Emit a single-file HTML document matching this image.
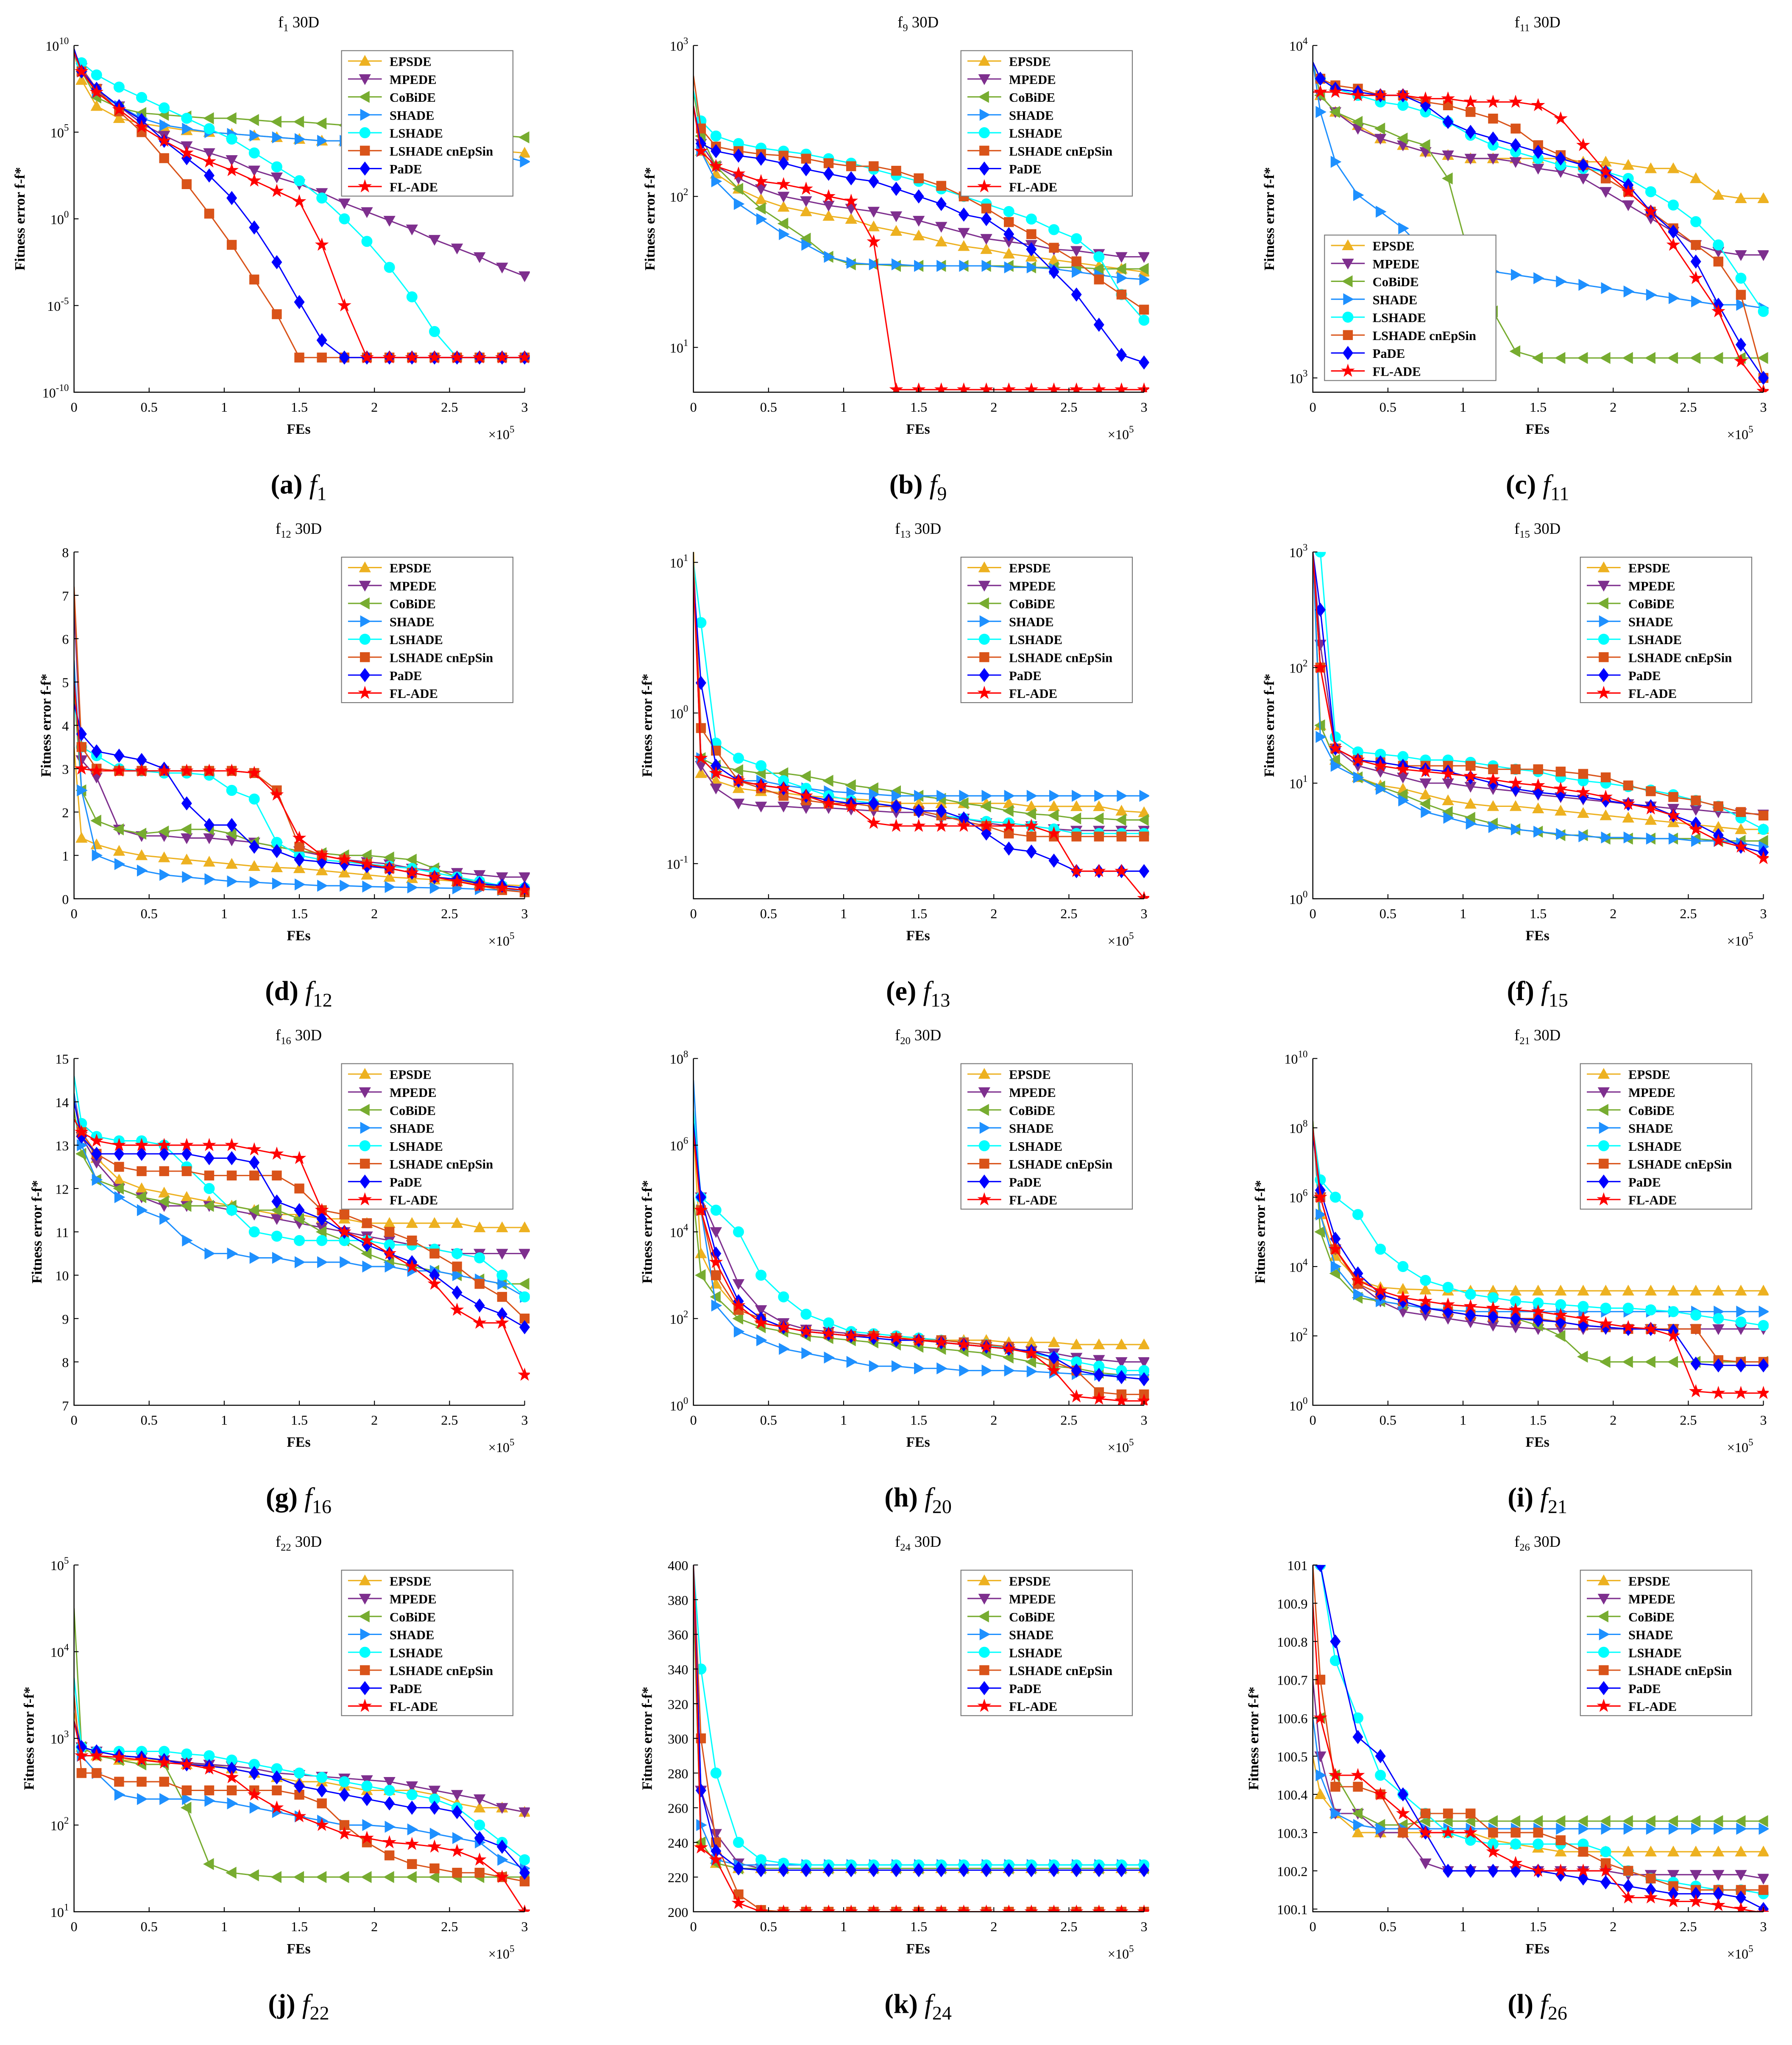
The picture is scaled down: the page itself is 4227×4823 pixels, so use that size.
<!DOCTYPE html>
<html><head><meta charset="utf-8"><title>Convergence curves</title>
<style>html,body{margin:0;padding:0;background:#fff}svg{display:block}</style></head>
<body>
<svg id="fig" xmlns="http://www.w3.org/2000/svg" width="4227" height="4823" viewBox="0 0 1380 1574.6" font-family="Liberation Serif, serif"></svg>
<script>
const fes=[0,.05,.15,.3,.45,.6,.75,.9,1.05,1.2,1.35,1.5,1.65,1.8,1.95,2.1,2.25,2.4,2.55,2.7,2.85,3.0];
const seriesNames=['EPSDE','MPEDE','CoBiDE','SHADE','LSHADE','LSHADE cnEpSin','PaDE','FL-ADE'];
const xTickLabels=['0','0.5','1','1.5','2','2.5','3'];
const f1_log10=[
[9.5,8,6.5,5.8,5.5,5.3,5.1,5,4.9,4.8,4.7,4.6,4.5,4.5,4.4,4.4,4.3,4.2,4.1,4,3.9,3.8],
[9.5,8.7,7.5,6.5,5.5,4.8,4.2,3.8,3.4,2.8,2.4,2,1.5,0.9,0.4,-0.1,-0.6,-1.2,-1.7,-2.2,-2.8,-3.3],
[9.8,8.5,7,6.4,6.1,6,5.9,5.8,5.8,5.7,5.6,5.6,5.5,5.4,5.3,5.2,5.1,5,5,4.9,4.8,4.7],
[9.5,8.5,7.3,6.5,5.8,5.4,5.2,5,4.9,4.8,4.7,4.6,4.5,4.5,4.4,4.4,4.3,4.3,4.2,4.1,3.6,3.3],
[9.5,9,8.3,7.6,7,6.4,5.8,5.2,4.6,3.8,3,2.2,1.2,0,-1.3,-2.8,-4.5,-6.5,-8,-8,-8,-8],
[9.8,8.5,7.5,6.2,5,3.5,2,0.3,-1.5,-3.5,-5.5,-8,-8,-8,-8,-8,-8,-8,-8,-8,-8,-8],
[9.8,8.5,7.5,6.5,5.7,4.5,3.5,2.5,1.2,-0.5,-2.5,-4.8,-7,-8,-8,-8,-8,-8,-8,-8,-8,-8],
[9.6,8.5,7.3,6.3,5.3,4.5,3.8,3.3,2.8,2.2,1.6,1,-1.5,-5,-8,-8,-8,-8,-8,-8,-8,-8]];
const f9_log10=[
[2.6,2.3,2.15,2.05,1.98,1.93,1.9,1.87,1.85,1.8,1.77,1.74,1.7,1.67,1.65,1.62,1.6,1.58,1.56,1.54,1.52,1.5],
[2.6,2.35,2.2,2.12,2.05,2,1.97,1.94,1.92,1.9,1.87,1.84,1.8,1.76,1.72,1.7,1.68,1.65,1.64,1.62,1.6,1.6],
[2.7,2.4,2.2,2.05,1.92,1.82,1.72,1.6,1.55,1.55,1.54,1.54,1.54,1.54,1.54,1.54,1.53,1.53,1.53,1.52,1.52,1.52],
[2.6,2.3,2.1,1.95,1.85,1.75,1.68,1.6,1.56,1.55,1.55,1.54,1.54,1.54,1.54,1.53,1.53,1.52,1.5,1.48,1.46,1.45],
[2.7,2.5,2.4,2.35,2.32,2.3,2.28,2.25,2.22,2.18,2.14,2.1,2.05,2,1.95,1.9,1.85,1.78,1.72,1.6,1.35,1.18],
[2.8,2.45,2.33,2.3,2.28,2.27,2.25,2.22,2.2,2.2,2.17,2.12,2.07,2.0,1.92,1.83,1.75,1.66,1.57,1.45,1.35,1.25],
[2.6,2.35,2.3,2.27,2.25,2.22,2.18,2.15,2.12,2.1,2.05,2.0,1.95,1.88,1.85,1.75,1.65,1.5,1.35,1.15,0.95,0.9],
[2.6,2.3,2.2,2.15,2.1,2.08,2.05,2,1.97,1.7,0.72,0.72,0.72,0.72,0.72,0.72,0.72,0.72,0.72,0.72,0.72,0.72]];
const f11_log10=[
[3.95,3.85,3.8,3.76,3.72,3.7,3.68,3.67,3.66,3.66,3.66,3.66,3.66,3.65,3.65,3.64,3.63,3.63,3.6,3.55,3.54,3.54],
[3.95,3.85,3.8,3.75,3.72,3.7,3.68,3.67,3.66,3.66,3.65,3.63,3.62,3.6,3.56,3.52,3.48,3.44,3.4,3.38,3.37,3.37],
[3.95,3.85,3.8,3.77,3.75,3.72,3.7,3.6,3.35,3.2,3.08,3.06,3.06,3.06,3.06,3.06,3.06,3.06,3.06,3.06,3.06,3.06],
[3.95,3.8,3.65,3.55,3.5,3.45,3.38,3.35,3.33,3.32,3.31,3.3,3.29,3.28,3.27,3.26,3.25,3.24,3.23,3.22,3.22,3.21],
[3.95,3.9,3.87,3.85,3.83,3.82,3.8,3.77,3.73,3.7,3.68,3.66,3.64,3.63,3.62,3.6,3.56,3.52,3.47,3.4,3.3,3.2],
[3.95,3.9,3.88,3.87,3.85,3.85,3.83,3.82,3.8,3.78,3.75,3.7,3.67,3.64,3.6,3.56,3.5,3.45,3.4,3.35,3.25,3.0],
[3.95,3.9,3.87,3.86,3.85,3.85,3.82,3.77,3.74,3.72,3.7,3.68,3.66,3.64,3.62,3.58,3.5,3.44,3.35,3.22,3.1,3.0],
[3.86,3.86,3.86,3.85,3.85,3.85,3.84,3.84,3.83,3.83,3.83,3.82,3.78,3.7,3.62,3.56,3.5,3.4,3.3,3.2,3.05,2.96]];
const f12_vals=[
[3.5,1.4,1.25,1.1,1.0,0.95,0.9,0.85,0.8,0.75,0.72,0.7,0.65,0.6,0.55,0.5,0.47,0.44,0.4,0.35,0.32,0.3],
[6.7,3.2,2.8,1.6,1.45,1.45,1.4,1.4,1.35,1.3,1.2,1.1,1.0,0.9,0.85,0.8,0.7,0.65,0.6,0.55,0.5,0.5],
[4.8,2.5,1.8,1.6,1.5,1.55,1.6,1.6,1.5,1.3,1.2,1.1,1.05,1.0,1.0,0.95,0.9,0.7,0.5,0.35,0.25,0.2],
[5.5,2.5,1.0,0.8,0.65,0.55,0.5,0.45,0.4,0.38,0.35,0.33,0.3,0.3,0.28,0.27,0.26,0.25,0.24,0.22,0.2,0.2],
[4.5,3.5,3.3,3.0,2.95,2.9,2.9,2.85,2.5,2.3,1.3,1.0,0.9,0.85,0.8,0.75,0.7,0.6,0.5,0.4,0.3,0.25],
[7.2,3.5,3.0,2.95,2.95,2.95,2.95,2.95,2.95,2.9,2.5,1.2,1.0,0.9,0.8,0.7,0.6,0.5,0.4,0.3,0.2,0.15],
[4.5,3.8,3.4,3.3,3.2,3.0,2.2,1.7,1.7,1.2,1.1,0.9,0.85,0.8,0.75,0.7,0.6,0.5,0.45,0.35,0.3,0.25],
[5.0,3.0,2.95,2.95,2.95,2.95,2.95,2.95,2.95,2.9,2.4,1.4,1.0,0.9,0.8,0.7,0.6,0.5,0.4,0.3,0.25,0.2]];
const f13_log10=[
[1.1,-0.4,-0.45,-0.5,-0.52,-0.53,-0.55,-0.56,-0.57,-0.58,-0.6,-0.6,-0.6,-0.6,-0.6,-0.6,-0.62,-0.62,-0.62,-0.62,-0.65,-0.66],
[1.0,-0.35,-0.5,-0.6,-0.62,-0.62,-0.63,-0.63,-0.64,-0.65,-0.66,-0.66,-0.7,-0.7,-0.73,-0.75,-0.75,-0.77,-0.78,-0.78,-0.78,-0.78],
[1.0,-0.3,-0.35,-0.38,-0.4,-0.4,-0.42,-0.45,-0.48,-0.5,-0.52,-0.55,-0.57,-0.6,-0.62,-0.65,-0.67,-0.68,-0.7,-0.7,-0.71,-0.71],
[1.0,-0.3,-0.4,-0.45,-0.45,-0.48,-0.5,-0.52,-0.53,-0.54,-0.55,-0.55,-0.55,-0.55,-0.55,-0.55,-0.55,-0.55,-0.55,-0.55,-0.55,-0.55],
[1.0,0.6,-0.2,-0.3,-0.35,-0.45,-0.5,-0.55,-0.58,-0.6,-0.62,-0.65,-0.68,-0.7,-0.72,-0.73,-0.75,-0.77,-0.8,-0.8,-0.8,-0.8],
[1.0,-0.1,-0.25,-0.45,-0.5,-0.55,-0.58,-0.6,-0.6,-0.62,-0.62,-0.65,-0.68,-0.72,-0.75,-0.8,-0.82,-0.82,-0.82,-0.82,-0.82,-0.82],
[0.9,0.2,-0.35,-0.45,-0.48,-0.5,-0.55,-0.58,-0.6,-0.6,-0.62,-0.65,-0.65,-0.7,-0.8,-0.9,-0.92,-0.98,-1.05,-1.05,-1.05,-1.05],
[0.9,-0.3,-0.4,-0.45,-0.48,-0.5,-0.55,-0.6,-0.62,-0.73,-0.75,-0.75,-0.75,-0.75,-0.75,-0.75,-0.75,-0.8,-1.05,-1.05,-1.05,-1.23]];
const f15_log10=[
[3.0,1.5,1.2,1.05,0.98,0.95,0.9,0.85,0.82,0.8,0.8,0.78,0.76,0.74,0.72,0.7,0.68,0.66,0.64,0.62,0.6,0.6],
[3.0,2.2,1.3,1.15,1.1,1.05,1.0,1.0,0.97,0.95,0.93,0.9,0.88,0.86,0.84,0.82,0.8,0.78,0.77,0.75,0.74,0.73],
[3.0,1.5,1.2,1.05,0.97,0.9,0.82,0.75,0.7,0.65,0.6,0.58,0.55,0.55,0.52,0.52,0.52,0.52,0.52,0.5,0.5,0.5],
[3.0,1.4,1.15,1.05,0.95,0.85,0.75,0.7,0.65,0.62,0.6,0.58,0.56,0.54,0.53,0.53,0.52,0.52,0.5,0.5,0.48,0.45],
[3.0,3.0,1.4,1.27,1.25,1.23,1.2,1.2,1.18,1.15,1.12,1.1,1.05,1.02,1.0,0.97,0.94,0.9,0.85,0.8,0.7,0.6],
[3.0,2.0,1.3,1.2,1.18,1.15,1.15,1.15,1.15,1.12,1.12,1.12,1.1,1.08,1.05,0.98,0.93,0.88,0.85,0.8,0.75,0.72],
[3.0,2.5,1.3,1.2,1.18,1.15,1.12,1.1,1.05,1.0,0.95,0.92,0.9,0.88,0.85,0.82,0.8,0.72,0.65,0.55,0.45,0.4],
[3.0,2.0,1.3,1.2,1.15,1.12,1.1,1.08,1.06,1.03,1.0,0.98,0.95,0.92,0.88,0.82,0.78,0.72,0.6,0.5,0.45,0.35]];
const f16_vals=[
[14.0,13.3,12.7,12.2,12.0,11.9,11.8,11.7,11.6,11.5,11.4,11.4,11.3,11.3,11.2,11.2,11.2,11.2,11.2,11.1,11.1,11.1],
[14.2,13.2,12.6,12.0,11.8,11.6,11.6,11.6,11.5,11.4,11.3,11.2,11.1,11.0,10.9,10.8,10.7,10.6,10.5,10.5,10.5,10.5],
[13.8,12.8,12.2,12.0,11.8,11.7,11.6,11.6,11.6,11.5,11.5,11.3,11.0,10.8,10.5,10.3,10.2,10.1,10.0,9.9,9.8,9.8],
[14.2,13.0,12.2,11.8,11.5,11.3,10.8,10.5,10.5,10.4,10.4,10.3,10.3,10.3,10.2,10.2,10.1,10.1,10.0,9.9,9.8,9.5],
[14.6,13.5,13.2,13.1,13.1,13.0,12.5,12.0,11.5,11.0,10.9,10.8,10.8,10.8,10.8,10.7,10.7,10.6,10.5,10.4,10.0,9.5],
[14.0,13.3,12.8,12.5,12.4,12.4,12.4,12.3,12.3,12.3,12.3,12.0,11.5,11.4,11.2,11.0,10.8,10.5,10.2,9.8,9.5,9.0],
[14.0,13.2,12.8,12.8,12.8,12.8,12.8,12.7,12.7,12.6,11.7,11.5,11.3,11.0,10.7,10.5,10.3,10.0,9.6,9.3,9.1,8.8],
[13.6,13.3,13.1,13.0,13.0,13.0,13.0,13.0,13.0,12.9,12.8,12.7,11.5,11.0,10.8,10.5,10.2,9.8,9.2,8.9,8.9,7.7]];
const f20_log10=[
[6.3,3.5,2.8,2.2,2.0,1.8,1.7,1.65,1.6,1.6,1.55,1.55,1.5,1.5,1.5,1.45,1.45,1.45,1.4,1.4,1.4,1.4],
[6.5,4.8,4.0,2.8,2.2,1.9,1.75,1.7,1.65,1.6,1.55,1.5,1.45,1.4,1.35,1.3,1.25,1.2,1.1,1.05,1.0,1.0],
[4.8,3.0,2.5,2.0,1.8,1.7,1.6,1.55,1.5,1.45,1.4,1.35,1.3,1.25,1.2,1.1,1.0,0.9,0.85,0.75,0.7,0.7],
[7.5,4.5,2.3,1.7,1.5,1.3,1.2,1.1,1.0,0.9,0.9,0.85,0.85,0.8,0.8,0.8,0.78,0.75,0.72,0.7,0.7,0.7],
[6.8,4.8,4.5,4.0,3.0,2.5,2.1,1.9,1.7,1.65,1.6,1.55,1.5,1.45,1.4,1.3,1.2,1.1,1.0,0.9,0.8,0.8],
[6.5,4.5,3.0,2.2,2.0,1.8,1.7,1.65,1.6,1.6,1.55,1.5,1.5,1.45,1.4,1.35,1.2,1.0,0.8,0.3,0.25,0.25],
[6.5,4.8,3.5,2.4,2.0,1.8,1.7,1.65,1.6,1.55,1.5,1.5,1.45,1.4,1.35,1.3,1.25,1.1,0.8,0.7,0.65,0.6],
[6.3,4.5,3.3,2.3,1.9,1.8,1.7,1.65,1.6,1.6,1.55,1.5,1.45,1.4,1.35,1.3,1.2,0.8,0.2,0.15,0.1,0.1]];
const f21_log10=[
[8.0,5.5,4.3,3.6,3.4,3.35,3.33,3.3,3.3,3.3,3.3,3.3,3.3,3.3,3.3,3.3,3.3,3.3,3.3,3.3,3.3,3.3],
[8.0,6.0,4.5,3.5,3.0,2.7,2.6,2.5,2.4,2.3,2.25,2.2,2.2,2.2,2.2,2.2,2.2,2.2,2.2,2.2,2.2,2.2],
[8.2,5.0,3.8,3.1,3.0,2.9,2.8,2.7,2.6,2.55,2.5,2.3,2.0,1.4,1.25,1.25,1.25,1.25,1.25,1.25,1.25,1.25],
[8.0,5.5,4.0,3.2,3.0,2.9,2.8,2.75,2.7,2.7,2.7,2.7,2.7,2.7,2.7,2.7,2.7,2.7,2.7,2.7,2.7,2.7],
[8.0,6.5,6.0,5.5,4.5,4.0,3.6,3.4,3.2,3.1,3.0,2.95,2.9,2.85,2.8,2.8,2.75,2.7,2.6,2.5,2.4,2.3],
[7.8,6.0,4.5,3.5,3.2,3.0,2.8,2.7,2.6,2.55,2.5,2.5,2.4,2.3,2.25,2.2,2.2,2.2,2.2,1.3,1.25,1.25],
[7.8,6.2,4.8,3.8,3.2,3.0,2.8,2.7,2.6,2.55,2.5,2.45,2.4,2.3,2.25,2.2,2.2,2.15,1.2,1.15,1.15,1.15],
[8.0,6.0,4.5,3.6,3.3,3.1,3.0,2.9,2.85,2.8,2.75,2.7,2.6,2.5,2.35,2.25,2.2,2.0,0.4,0.35,0.35,0.35]];
const f22_log10=[
[3.3,2.9,2.8,2.75,2.75,2.75,2.7,2.7,2.65,2.6,2.55,2.5,2.5,2.45,2.4,2.4,2.4,2.35,2.25,2.2,2.2,2.15],
[3.2,2.9,2.85,2.8,2.78,2.75,2.72,2.7,2.68,2.65,2.6,2.58,2.56,2.54,2.52,2.5,2.45,2.4,2.35,2.3,2.2,2.15],
[4.5,2.9,2.8,2.75,2.7,2.7,2.2,1.55,1.45,1.42,1.4,1.4,1.4,1.4,1.4,1.4,1.4,1.4,1.4,1.4,1.4,1.4],
[3.2,2.8,2.6,2.35,2.3,2.3,2.3,2.28,2.25,2.2,2.15,2.1,2.05,2.0,2.0,1.98,1.95,1.9,1.85,1.8,1.6,1.5],
[3.7,2.9,2.85,2.85,2.85,2.85,2.82,2.8,2.75,2.7,2.65,2.6,2.55,2.5,2.45,2.4,2.35,2.3,2.2,2.0,1.8,1.6],
[3.5,2.6,2.6,2.5,2.5,2.5,2.4,2.4,2.4,2.4,2.4,2.35,2.25,2.0,1.8,1.65,1.55,1.5,1.45,1.45,1.4,1.35],
[3.2,2.9,2.85,2.8,2.78,2.75,2.7,2.68,2.65,2.6,2.55,2.45,2.4,2.35,2.3,2.25,2.2,2.2,2.15,1.85,1.75,1.45],
[3.2,2.8,2.8,2.78,2.75,2.72,2.7,2.65,2.55,2.35,2.2,2.1,2.0,1.9,1.85,1.8,1.78,1.75,1.7,1.6,1.4,1.0]];
const f24_vals=[
[380,240,228,225,225,225,225,225,225,225,225,225,225,225,225,225,225,225,225,225,225,225],
[400,270,245,228,225,225,225,225,225,225,225,225,225,225,225,225,225,225,225,225,225,225],
[380,240,228,225,225,225,225,225,225,225,225,225,225,225,225,225,225,225,225,225,225,225],
[390,250,230,227,227,227,227,227,227,227,227,227,227,227,227,227,227,227,227,227,227,227],
[400,340,280,240,230,228,227,227,227,227,227,227,227,227,227,227,227,227,227,227,227,227],
[400,300,240,210,201,200,200,200,200,200,200,200,200,200,200,200,200,200,200,200,200,200],
[400,270,235,225,224,224,224,224,224,224,224,224,224,224,224,224,224,224,224,224,224,224],
[400,237,230,205,200,200,200,200,200,200,200,200,200,200,200,200,200,200,200,200,200,200]];
const f26_vals=[
[100.5,100.4,100.35,100.3,100.3,100.3,100.3,100.3,100.3,100.28,100.27,100.26,100.25,100.25,100.25,100.25,100.25,100.25,100.25,100.25,100.25,100.25],
[100.7,100.5,100.35,100.35,100.3,100.3,100.22,100.2,100.2,100.2,100.2,100.2,100.2,100.2,100.2,100.19,100.19,100.19,100.19,100.19,100.19,100.18],
[100.6,100.6,100.45,100.35,100.32,100.32,100.33,100.33,100.33,100.33,100.33,100.33,100.33,100.33,100.33,100.33,100.33,100.33,100.33,100.33,100.33,100.33],
[100.6,100.45,100.35,100.32,100.31,100.31,100.31,100.31,100.31,100.31,100.31,100.31,100.31,100.31,100.31,100.31,100.31,100.31,100.31,100.31,100.31,100.31],
[101,101,100.75,100.6,100.45,100.4,100.35,100.3,100.28,100.27,100.27,100.27,100.27,100.27,100.25,100.2,100.18,100.17,100.16,100.15,100.15,100.14],
[101,100.7,100.42,100.42,100.4,100.3,100.35,100.35,100.35,100.3,100.3,100.3,100.28,100.25,100.22,100.2,100.18,100.16,100.15,100.15,100.15,100.15],
[101,101,100.8,100.55,100.5,100.4,100.3,100.2,100.2,100.2,100.2,100.2,100.19,100.18,100.17,100.16,100.15,100.14,100.14,100.14,100.13,100.1],
[100.9,100.6,100.45,100.45,100.4,100.35,100.3,100.3,100.3,100.25,100.22,100.2,100.2,100.2,100.2,100.13,100.13,100.12,100.12,100.11,100.1,100.09]];

const colors=['#EDB120','#7E2F8E','#77AC30','#1E90FF','#00FFFF','#D95319','#0000FF','#FF0000'];
const markers=['tu','td','tl','tr','o','s','d','p'];
const NS='http://www.w3.org/2000/svg';
const svg=document.getElementById('fig');
function mk(tag,attrs,parent){const e=document.createElementNS(NS,tag);for(const k in attrs)e.setAttribute(k,attrs[k]);(parent||svg).appendChild(e);return e;}
function txt(x,y,s,size,parent,anchor,weight){const t=mk('text',{x:x,y:y,'font-size':size,'text-anchor':anchor||'middle','font-weight':weight||'normal',fill:'#000'},parent);t.textContent=s;return t;}

const plots=[
{sub:'1',cap:'a',data:f1_log10,log:true,ymin:-10,ymax:10,ticks:[-10,-5,0,5,10],leg:[263,39],ylx:15},
{sub:'9',cap:'b',data:f9_log10,log:true,ymin:0.703,ymax:3,ticks:[1,2,3],leg:[740,39],ylx:500},
{sub:'11',cap:'c',data:f11_log10,log:true,ymin:2.957,ymax:4,ticks:[3,4],leg:[1020,181],ylx:977},
{sub:'12',cap:'d',data:f12_vals,log:false,ymin:0,ymax:8,ticks:[0,1,2,3,4,5,6,7,8],leg:[263,429],ylx:35},
{sub:'13',cap:'e',data:f13_log10,log:true,ymin:-1.233,ymax:1.069,ticks:[-1,0,1],leg:[740,429],ylx:498},
{sub:'15',cap:'f',data:f15_log10,log:true,ymin:0,ymax:3,ticks:[0,1,2,3],leg:[1217,429],ylx:977},
{sub:'16',cap:'g',data:f16_vals,log:false,ymin:7,ymax:15,ticks:[7,8,9,10,11,12,13,14,15],leg:[263,819],ylx:28},
{sub:'20',cap:'h',data:f20_log10,log:true,ymin:0,ymax:8,ticks:[0,2,4,6,8],leg:[740,819],ylx:498},
{sub:'21',cap:'i',data:f21_log10,log:true,ymin:0,ymax:10,ticks:[0,2,4,6,8,10],leg:[1217,819],ylx:970},
{sub:'22',cap:'j',data:f22_log10,log:true,ymin:1,ymax:5,ticks:[1,2,3,4,5],leg:[263,1209],ylx:22},
{sub:'24',cap:'k',data:f24_vals,log:false,ymin:200,ymax:400,ticks:[200,220,240,260,280,300,320,340,360,380,400],leg:[740,1209],ylx:498},
{sub:'26',cap:'l',data:f26_vals,log:false,ymin:100.093,ymax:101,ticks:[100.1,100.2,100.3,100.4,100.5,100.6,100.7,100.8,100.9,101],leg:[1217,1209],ylx:965}];

function drawMarker(g,type,x,y,c){
  const r=4.2;let e;
  if(type==='o'){e=mk('circle',{cx:x,cy:y,r:r*0.95},g);}
  else if(type==='s'){e=mk('rect',{x:x-r*0.85,y:y-r*0.85,width:r*1.7,height:r*1.7},g);}
  else{let pts;
    if(type==='tu')pts=[[0,-r],[r,r*0.8],[-r,r*0.8]];
    else if(type==='td')pts=[[0,r],[r,-r*0.8],[-r,-r*0.8]];
    else if(type==='tl')pts=[[-r,0],[r*0.8,-r],[r*0.8,r]];
    else if(type==='tr')pts=[[r,0],[-r*0.8,-r],[-r*0.8,r]];
    else if(type==='d')pts=[[0,-r*1.2],[r*0.9,0],[0,r*1.2],[-r*0.9,0]];
    else{pts=[];for(let i=0;i<10;i++){const a=-Math.PI/2+i*Math.PI/5,rr=i%2?r*0.45:r*1.15;pts.push([rr*Math.cos(a),rr*Math.sin(a)]);}}
    e=mk('polygon',{points:pts.map(p=>(x+p[0]).toFixed(2)+','+(y+p[1]).toFixed(2)).join(' ')},g);}
  e.setAttribute('fill',c);e.setAttribute('stroke',c);e.setAttribute('stroke-width','0.5');
}

plots.forEach((p,i)=>{
  const col=i%3,row=Math.floor(i/3);
  const L=57+col*477,T=35+row*390,W=347,H=267,B=T+H;
  const xs=v=>L+v/3*W;
  const ys=v=>T+(p.ymax-v)/(p.ymax-p.ymin)*H;
  const g=mk('g',{});
  
  
  const cid='clip'+i;
  const cp=mk('clipPath',{id:cid},g);mk('rect',{x:L,y:T,width:W+4,height:H},cp);
  // title
  const tt=mk('text',{x:L+173,y:T-14,'font-size':12,'text-anchor':'middle'},g);
  
  
  tt.innerHTML='f<tspan font-size="8" dy="3">'+p.sub+'</tspan><tspan dy="-3"> 30D</tspan>';
  // series
  const sg=mk('g',{'clip-path':'url(#'+cid+')'},g);
  p.data.forEach((vals,s)=>{
    const pl=mk('polyline',{points:vals.map((v,k)=>xs(fes[k]).toFixed(2)+','+ys(v).toFixed(2)).join(' '),fill:'none',stroke:colors[s],'stroke-width':1},sg);
    
    
    vals.forEach((v,k)=>{if(k>0)drawMarker(sg,markers[s],xs(fes[k]),ys(v),colors[s]);});
  });
  // axes
  const ax=mk('path',{d:'M'+L+','+T+'V'+B+'H'+(L+W),stroke:'#000','stroke-width':0.8,fill:'none'},g);
  
  
  for(let k=0;k<=6;k++){const x=xs(k*0.5);mk('line',{x1:x,y1:B,x2:x,y2:B-3.5,stroke:'#000','stroke-width':0.7},g);txt(x,B+15,xTickLabels[k],10.5,g);}
  p.ticks.forEach(t=>{const y=ys(t);mk('line',{x1:L,y1:y,x2:L+3.5,y2:y,stroke:'#000','stroke-width':0.7},g);
    if(p.log){const te=mk('text',{x:L-4,y:y+4,'font-size':10.5,'text-anchor':'end'},g);te.innerHTML='10<tspan font-size="7.5" dy="-5">'+t+'</tspan>';}
    else txt(L-4,y+4,String(t),10.5,g,'end');});
  const fl=txt(L+173,B+32,'FEs',11,g,'middle','bold');
  
  
  const sc=mk('text',{x:L+W-28,y:B+36,'font-size':10.5},g);sc.innerHTML='×10<tspan font-size="7.5" dy="-5">5</tspan>';
  const yl=mk('text',{x:0,y:0,'font-size':11,'font-weight':'bold','text-anchor':'middle',transform:'translate('+(p.ylx+4)+','+(T+H/2)+') rotate(-90)'},g);
  yl.textContent='Fitness error f-f*';
  
  
  // legend
  const [lx,ly]=p.leg;
  const lg=mk('g',{},g);
  
  
  mk('rect',{x:lx,y:ly,width:132,height:112,fill:'#fff',stroke:'#777','stroke-width':0.7},lg);
  seriesNames.forEach((n,s)=>{const y=ly+8+s*13.8;
    const e=mk('g',{},lg);
    
    
    mk('line',{x1:lx+5,y1:y,x2:lx+31,y2:y,stroke:colors[s],'stroke-width':1},e);
    drawMarker(e,markers[s],lx+18,y,colors[s]);
    txt(lx+37,y+3.8,n,10,e,'start','bold');});
  // caption
  const c=mk('text',{x:L+173,y:T+345,'font-size':21,'text-anchor':'middle'},g);
  
  
  c.innerHTML='<tspan font-weight="bold">('+p.cap+')</tspan> <tspan font-style="italic">f</tspan><tspan font-size="15" dy="5">'+p.sub+'</tspan>';
});
</script>
</body></html>
